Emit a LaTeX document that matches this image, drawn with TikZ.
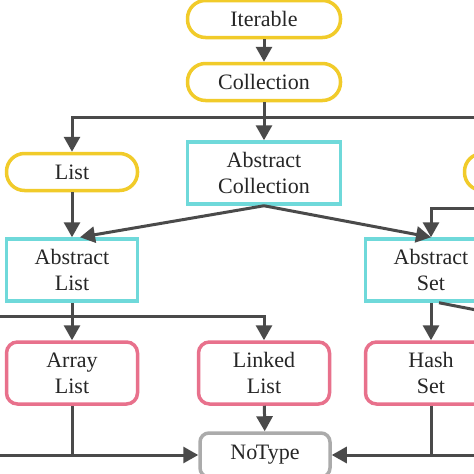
\documentclass[tikz,border=0pt]{standalone}
\usepackage{fontspec}
\setmainfont{Liberation Serif}
\usetikzlibrary{arrows.meta}
\definecolor{cyel}{HTML}{F1CB2A}
\definecolor{ccyan}{HTML}{6FD9DA}
\definecolor{cpink}{HTML}{E8718C}
\definecolor{cgray}{HTML}{ABABAB}
\definecolor{cline}{HTML}{4A4A4A}
\tikzset{
  base/.style={line width=3.5pt, inner sep=0pt, align=center, text=black!85,
    font=\fontsize{22}{26}\selectfont},
  pill/.style={base, draw=cyel, rounded corners=18pt, minimum height=37pt},
  absbox/.style={base, draw=ccyan, minimum height=62pt},
  impl/.style={base, draw=cpink, rounded corners=11pt, minimum width=131pt, minimum height=62pt},
  none/.style={base, draw=cgray, rounded corners=9pt, minimum width=130pt, minimum height=44pt},
  conn/.style={draw=cline, line width=3pt},
  arr/.style={conn, -{Triangle[length=15pt,width=16pt]}},
}
\begin{document}
\begin{tikzpicture}[x=1pt,y=-1pt]
\useasboundingbox (0,0) rectangle (474,474);
\clip (0,0) rectangle (474,474);
\fill[white] (0,0) rectangle (474,474);
% nodes
\node[pill, minimum width=153pt] (iter) at (264,19) {Iterable};
\node[pill, minimum width=153pt] (coll) at (264,82) {Collection};
\node[absbox, minimum width=153pt] (acoll) at (264,173) {Abstract\\Collection};
\node[pill, minimum width=131pt] (list) at (72,172) {List};
\node[pill, minimum width=131pt] (set) at (530,172) {};
\node[absbox, minimum width=131pt] (alist) at (72,270) {Abstract\\List};
\node[absbox, minimum width=131pt] (aset) at (431,270) {Abstract\\Set};
\node[impl] (arr) at (72,373) {Array\\List};
\node[impl] (llist) at (264,373) {Linked\\List};
\node[impl] (hset) at (431,373) {Hash\\Set};
\node[none] (notype) at (265,455) {No\kern-1.5pt Type};
% helper coordinates
\coordinate (j1) at (264,117);
\coordinate (j2) at (72,316);
\coordinate (j3) at (431,208);
\coordinate (lft1) at (-30,316);
\coordinate (lft2) at (-30,455);
\coordinate (rgt2) at (510,455);
\coordinate (tree) at (620,338);
% connectors
\draw[arr] (iter) -- (coll);
\draw[arr] (coll) -- (acoll);
\draw[arr] (j1) -| (list);
\draw[arr] (j1) -| (set);
\draw[arr] (list) -- (alist);
\draw[arr] (acoll.south) -- ([xshift=8pt]alist.north);
\draw[arr] (acoll.south) -- (aset.north);
\draw[arr] (set.south) |- (j3) -- (aset.north);
\draw[conn] ([xshift=8pt]aset.south) -- (tree);
\draw[arr] (alist) -- (arr);
\draw[conn] (lft1) -- (j2);
\draw[arr] (j2) -| (llist);
\draw[arr] (aset) -- (hset);
\draw[arr] (llist) -- (notype);
\draw[arr] (arr.south) |- (notype.west);
\draw[conn] (lft2) -- (arr.south |- notype.west);
\draw[arr] (hset.south) |- (notype.east);
\draw[conn] (rgt2) -- (hset.south |- notype.east);
\end{tikzpicture}
\end{document}
